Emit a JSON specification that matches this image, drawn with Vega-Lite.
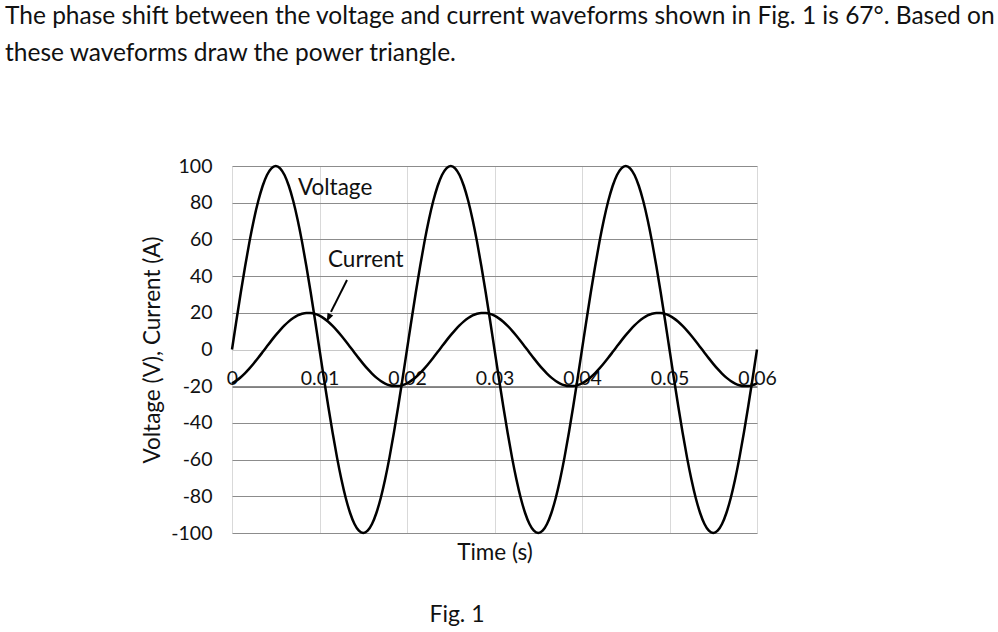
{
  "$schema": "https://vega.github.io/schema/vega-lite/v6.json",
  "width": 525,
  "height": 367,
  "autosize": {"type": "none"},
  "padding": {"left": 232, "top": 166, "right": 241, "bottom": 99},
  "background": "white",
  "config": {
    "view": {"stroke": null},
    "font": "Lato",
    "text": {"font": "Lato", "color": "#111111"}
  },
  "title": {
    "text": ["The phase shift between the voltage and current waveforms shown in Fig. 1 is 67°.  Based on", "these waveforms draw the power triangle."],
    "anchor": "start",
    "frame": "group",
    "dx": -227,
    "dy": -90,
    "fontSize": 24.5,
    "font": "Lato",
    "fontWeight": "normal",
    "lineHeight": 37,
    "color": "#111111",
    "offset": 0
  },
  "datasets": {
    "wave": [
      {"t": 0, "Voltage": 0, "Current": -18.41},
      {"t": 0.0005, "Voltage": 15.64, "Current": -16.96},
      {"t": 0.001, "Voltage": 30.9, "Current": -15.09},
      {"t": 0.0015, "Voltage": 45.4, "Current": -12.86},
      {"t": 0.002, "Voltage": 58.78, "Current": -10.3},
      {"t": 0.0025, "Voltage": 70.71, "Current": -7.49},
      {"t": 0.003, "Voltage": 80.9, "Current": -4.5},
      {"t": 0.0035, "Voltage": 89.1, "Current": -1.4},
      {"t": 0.004, "Voltage": 95.11, "Current": 1.74},
      {"t": 0.0045, "Voltage": 98.77, "Current": 4.84},
      {"t": 0.005, "Voltage": 100, "Current": 7.81},
      {"t": 0.0055, "Voltage": 98.77, "Current": 10.6},
      {"t": 0.006, "Voltage": 95.11, "Current": 13.12},
      {"t": 0.0065, "Voltage": 89.1, "Current": 15.32},
      {"t": 0.007, "Voltage": 80.9, "Current": 17.14},
      {"t": 0.0075, "Voltage": 70.71, "Current": 18.54},
      {"t": 0.008, "Voltage": 58.78, "Current": 19.49},
      {"t": 0.0085, "Voltage": 45.4, "Current": 19.95},
      {"t": 0.009, "Voltage": 30.9, "Current": 19.92},
      {"t": 0.0095, "Voltage": 15.64, "Current": 19.41},
      {"t": 0.01, "Voltage": 0, "Current": 18.41},
      {"t": 0.0105, "Voltage": -15.64, "Current": 16.96},
      {"t": 0.011, "Voltage": -30.9, "Current": 15.09},
      {"t": 0.0115, "Voltage": -45.4, "Current": 12.86},
      {"t": 0.012, "Voltage": -58.78, "Current": 10.3},
      {"t": 0.0125, "Voltage": -70.71, "Current": 7.49},
      {"t": 0.013, "Voltage": -80.9, "Current": 4.5},
      {"t": 0.0135, "Voltage": -89.1, "Current": 1.4},
      {"t": 0.014, "Voltage": -95.11, "Current": -1.74},
      {"t": 0.0145, "Voltage": -98.77, "Current": -4.84},
      {"t": 0.015, "Voltage": -100, "Current": -7.81},
      {"t": 0.0155, "Voltage": -98.77, "Current": -10.6},
      {"t": 0.016, "Voltage": -95.11, "Current": -13.12},
      {"t": 0.0165, "Voltage": -89.1, "Current": -15.32},
      {"t": 0.017, "Voltage": -80.9, "Current": -17.14},
      {"t": 0.0175, "Voltage": -70.71, "Current": -18.54},
      {"t": 0.018, "Voltage": -58.78, "Current": -19.49},
      {"t": 0.0185, "Voltage": -45.4, "Current": -19.95},
      {"t": 0.019, "Voltage": -30.9, "Current": -19.92},
      {"t": 0.0195, "Voltage": -15.64, "Current": -19.41},
      {"t": 0.02, "Voltage": 0, "Current": -18.41},
      {"t": 0.0205, "Voltage": 15.64, "Current": -16.96},
      {"t": 0.021, "Voltage": 30.9, "Current": -15.09},
      {"t": 0.0215, "Voltage": 45.4, "Current": -12.86},
      {"t": 0.022, "Voltage": 58.78, "Current": -10.3},
      {"t": 0.0225, "Voltage": 70.71, "Current": -7.49},
      {"t": 0.023, "Voltage": 80.9, "Current": -4.5},
      {"t": 0.0235, "Voltage": 89.1, "Current": -1.4},
      {"t": 0.024, "Voltage": 95.11, "Current": 1.74},
      {"t": 0.0245, "Voltage": 98.77, "Current": 4.84},
      {"t": 0.025, "Voltage": 100, "Current": 7.81},
      {"t": 0.0255, "Voltage": 98.77, "Current": 10.6},
      {"t": 0.026, "Voltage": 95.11, "Current": 13.12},
      {"t": 0.0265, "Voltage": 89.1, "Current": 15.32},
      {"t": 0.027, "Voltage": 80.9, "Current": 17.14},
      {"t": 0.0275, "Voltage": 70.71, "Current": 18.54},
      {"t": 0.028, "Voltage": 58.78, "Current": 19.49},
      {"t": 0.0285, "Voltage": 45.4, "Current": 19.95},
      {"t": 0.029, "Voltage": 30.9, "Current": 19.92},
      {"t": 0.0295, "Voltage": 15.64, "Current": 19.41},
      {"t": 0.03, "Voltage": 0, "Current": 18.41},
      {"t": 0.0305, "Voltage": -15.64, "Current": 16.96},
      {"t": 0.031, "Voltage": -30.9, "Current": 15.09},
      {"t": 0.0315, "Voltage": -45.4, "Current": 12.86},
      {"t": 0.032, "Voltage": -58.78, "Current": 10.3},
      {"t": 0.0325, "Voltage": -70.71, "Current": 7.49},
      {"t": 0.033, "Voltage": -80.9, "Current": 4.5},
      {"t": 0.0335, "Voltage": -89.1, "Current": 1.4},
      {"t": 0.034, "Voltage": -95.11, "Current": -1.74},
      {"t": 0.0345, "Voltage": -98.77, "Current": -4.84},
      {"t": 0.035, "Voltage": -100, "Current": -7.81},
      {"t": 0.0355, "Voltage": -98.77, "Current": -10.6},
      {"t": 0.036, "Voltage": -95.11, "Current": -13.12},
      {"t": 0.0365, "Voltage": -89.1, "Current": -15.32},
      {"t": 0.037, "Voltage": -80.9, "Current": -17.14},
      {"t": 0.0375, "Voltage": -70.71, "Current": -18.54},
      {"t": 0.038, "Voltage": -58.78, "Current": -19.49},
      {"t": 0.0385, "Voltage": -45.4, "Current": -19.95},
      {"t": 0.039, "Voltage": -30.9, "Current": -19.92},
      {"t": 0.0395, "Voltage": -15.64, "Current": -19.41},
      {"t": 0.04, "Voltage": 0, "Current": -18.41},
      {"t": 0.0405, "Voltage": 15.64, "Current": -16.96},
      {"t": 0.041, "Voltage": 30.9, "Current": -15.09},
      {"t": 0.0415, "Voltage": 45.4, "Current": -12.86},
      {"t": 0.042, "Voltage": 58.78, "Current": -10.3},
      {"t": 0.0425, "Voltage": 70.71, "Current": -7.49},
      {"t": 0.043, "Voltage": 80.9, "Current": -4.5},
      {"t": 0.0435, "Voltage": 89.1, "Current": -1.4},
      {"t": 0.044, "Voltage": 95.11, "Current": 1.74},
      {"t": 0.0445, "Voltage": 98.77, "Current": 4.84},
      {"t": 0.045, "Voltage": 100, "Current": 7.81},
      {"t": 0.0455, "Voltage": 98.77, "Current": 10.6},
      {"t": 0.046, "Voltage": 95.11, "Current": 13.12},
      {"t": 0.0465, "Voltage": 89.1, "Current": 15.32},
      {"t": 0.047, "Voltage": 80.9, "Current": 17.14},
      {"t": 0.0475, "Voltage": 70.71, "Current": 18.54},
      {"t": 0.048, "Voltage": 58.78, "Current": 19.49},
      {"t": 0.0485, "Voltage": 45.4, "Current": 19.95},
      {"t": 0.049, "Voltage": 30.9, "Current": 19.92},
      {"t": 0.0495, "Voltage": 15.64, "Current": 19.41},
      {"t": 0.05, "Voltage": 0, "Current": 18.41},
      {"t": 0.0505, "Voltage": -15.64, "Current": 16.96},
      {"t": 0.051, "Voltage": -30.9, "Current": 15.09},
      {"t": 0.0515, "Voltage": -45.4, "Current": 12.86},
      {"t": 0.052, "Voltage": -58.78, "Current": 10.3},
      {"t": 0.0525, "Voltage": -70.71, "Current": 7.49},
      {"t": 0.053, "Voltage": -80.9, "Current": 4.5},
      {"t": 0.0535, "Voltage": -89.1, "Current": 1.4},
      {"t": 0.054, "Voltage": -95.11, "Current": -1.74},
      {"t": 0.0545, "Voltage": -98.77, "Current": -4.84},
      {"t": 0.055, "Voltage": -100, "Current": -7.81},
      {"t": 0.0555, "Voltage": -98.77, "Current": -10.6},
      {"t": 0.056, "Voltage": -95.11, "Current": -13.12},
      {"t": 0.0565, "Voltage": -89.1, "Current": -15.32},
      {"t": 0.057, "Voltage": -80.9, "Current": -17.14},
      {"t": 0.0575, "Voltage": -70.71, "Current": -18.54},
      {"t": 0.058, "Voltage": -58.78, "Current": -19.49},
      {"t": 0.0585, "Voltage": -45.4, "Current": -19.95},
      {"t": 0.059, "Voltage": -30.9, "Current": -19.92},
      {"t": 0.0595, "Voltage": -15.64, "Current": -19.41},
      {"t": 0.06, "Voltage": 0, "Current": -18.41}
    ],
    "labels": [
      {"t": 0.007543, "v": 88.0, "label": "Voltage"},
      {"t": 0.010971, "v": 48.8, "label": "Current"}
    ],
    "fig": [
      {"t": 0.02571, "v": -144.7, "label": "Fig. 1"}
    ],
    "arrow": [
      {"t": 0.013143, "v": 37.9, "t2": 0.011314, "v2": 20.5}
    ],
    "arrowhead": [
      {"t": 0.011086, "v": 17.7}
    ]
  },
  "layer": [
    {
      "data": {"name": "wave"},
      "transform": [{"fold": ["Voltage", "Current"], "as": ["series", "value"]}],
      "mark": {"type": "line", "interpolate": "monotone", "color": "black", "strokeWidth": 2.5},
      "encoding": {
        "x": {
          "field": "t", "type": "quantitative",
          "scale": {"domain": [0, 0.06], "nice": false, "zero": false},
          "axis": {
            "orient": "bottom",
            "offset": -146,
            "values": [0, 0.01, 0.02, 0.03, 0.04, 0.05, 0.06],
            "tickCount": 20,
            "format": "~g",
            "labelFlush": false,
            "labelOverlap": false,
            "labelFont": "Lato",
            "labelFontSize": 19.5,
            "labelColor": "#111111",
            "labelBaseline": "alphabetic",
            "labelPadding": -3,
            "ticks": false,
            "tickSize": 0,
            "domain": true,
            "domainColor": "#7f7f7f",
            "domainWidth": 1,
            "grid": true,
            "gridColor": "#d9d9d9",
            "gridWidth": 1,
            "title": "Time (s)",
            "titleFont": "Lato",
            "titleFontSize": 22.5,
            "titleFontWeight": "normal",
            "titleColor": "#111111",
            "titleBaseline": "middle",
            "titleY": 165
          }
        },
        "y": {
          "field": "value", "type": "quantitative",
          "scale": {"domain": [-100, 100], "nice": false},
          "axis": {
            "values": [-100, -80, -60, -40, -20, 0, 20, 40, 60, 80, 100],
            "tickCount": 20,
            "labelExpr": "datum.value + ''",
            "labelOverlap": false,
            "labelFont": "Lato",
            "labelFontSize": 19.5,
            "labelColor": "#111111",
            "labelPadding": 20,
            "ticks": false,
            "domain": false,
            "grid": true,
            "gridColor": {"condition": {"test": "datum.value === 0", "value": "#c8c8c8"}, "value": "#8c8c8c"},
            "gridWidth": 1,
            "title": "Voltage (V), Current (A)",
            "titleFont": "Lato",
            "titleFontSize": 22.5,
            "titleFontWeight": "normal",
            "titleColor": "#111111",
            "titlePadding": 6
          }
        },
        "detail": {"field": "series"}
      }
    },
    {
      "data": {"name": "labels"},
      "mark": {"type": "text", "align": "left", "baseline": "middle", "fontSize": 22.5, "font": "Lato", "color": "#111111"},
      "encoding": {
        "x": {"field": "t", "type": "quantitative"},
        "y": {"field": "v", "type": "quantitative"},
        "text": {"field": "label"}
      }
    },
    {
      "data": {"name": "fig"},
      "mark": {"type": "text", "align": "center", "baseline": "middle", "fontSize": 23, "font": "Lato", "color": "#111111"},
      "encoding": {
        "x": {"field": "t", "type": "quantitative"},
        "y": {"field": "v", "type": "quantitative"},
        "text": {"field": "label"}
      }
    },
    {
      "data": {"name": "arrow"},
      "mark": {"type": "rule", "color": "black", "strokeWidth": 2},
      "encoding": {
        "x": {"field": "t", "type": "quantitative"},
        "y": {"field": "v", "type": "quantitative"},
        "x2": {"field": "t2"},
        "y2": {"field": "v2"}
      }
    },
    {
      "data": {"name": "arrowhead"},
      "mark": {"type": "point", "shape": "M0,-1L0.6,0.6L-0.6,0.6Z", "filled": true, "color": "black", "opacity": 1, "size": 110, "angle": 206},
      "encoding": {
        "x": {"field": "t", "type": "quantitative"},
        "y": {"field": "v", "type": "quantitative"}
      }
    }
  ]
}
